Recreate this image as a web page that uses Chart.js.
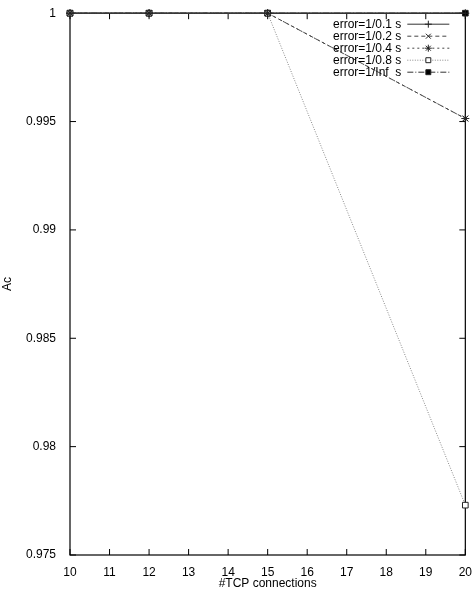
<!DOCTYPE html>
<html>
<head>
<meta charset="UTF-8">
<style>
  html, body { margin: 0; padding: 0; background: #fff; }
  #box { width: 474px; height: 591px; }
</style>
</head>
<body>
<div id="box"><canvas id="c"></canvas></div>
<script src="https://cdn.jsdelivr.net/npm/chart.js"></script>
<script>
    const xValues = [10, 12, 15, 20];
    const labels = ['error=1/0.1 s', 'error=1/0.2 s', 'error=1/0.4 s', 'error=1/0.8 s', 'error=1/Inf  s'];
    const s01 = [1, 1, 1, 1];
    const s02 = [1, 1, 1, 0.99514];
    const s04 = [1, 1, 1, 0.99514];
    const s08 = [1, 1, 1, 0.9773];
    const sInf = [1, 1, 1, 1];
    const series = [s01, s02, s04, s08, sInf];
    const dashes = [[], [4, 3], [2, 3], [1, 1.5], [6, 2, 1, 2]];
    const pointStyles = ['cross', 'crossRot', 'star', 'rect', 'rect'];
    const lineColors = ['#333', '#444', '#444', '#888', '#333'];
    const fills = ['#000', '#000', '#000', '#fff', '#000'];

    const font = 'Liberation Sans, Arial, sans-serif';

    let datasets = [];
    for (let i = 0; i < series.length; i++) {
        datasets.push({
            label: labels[i],
            data: xValues.map((x, j) => ({x: x, y: series[i][j]})),
            borderColor: lineColors[i],
            borderWidth: 1,
            borderDash: dashes[i],
            pointStyle: pointStyles[i],
            pointRadius: 4,
            pointBorderColor: '#222',
            pointBackgroundColor: fills[i],
            pointBorderWidth: 1,
            fill: false,
            clip: false,
            tension: 0
        });
    }

    // gnuplot-like frame, inward ticks and legend
    const gnuplotLook = {
        id: 'gnuplotLook',
        beforeDatasetsDraw(chart) {
            const ctx = chart.ctx;
            const a = chart.chartArea;
            const xs = chart.scales.x, ys = chart.scales.y;
            ctx.save();
            ctx.strokeStyle = '#000';
            ctx.lineWidth = 1.2;
            ctx.strokeRect(a.left, a.top, a.right - a.left, a.bottom - a.top);
            ctx.lineWidth = 1;
            xs.ticks.forEach(t => {
                const px = xs.getPixelForValue(t.value);
                ctx.beginPath();
                ctx.moveTo(px, a.bottom); ctx.lineTo(px, a.bottom - 6);
                ctx.moveTo(px, a.top); ctx.lineTo(px, a.top + 6);
                ctx.stroke();
            });
            ys.ticks.forEach(t => {
                const py = ys.getPixelForValue(t.value);
                ctx.beginPath();
                ctx.moveTo(a.left, py); ctx.lineTo(a.left + 6, py);
                ctx.moveTo(a.right, py); ctx.lineTo(a.right - 6, py);
                ctx.stroke();
            });
            ctx.restore();
        },
        afterDatasetsDraw(chart) {
            const ctx = chart.ctx;
            const a = chart.chartArea;
            ctx.save();
            ctx.font = '12px ' + font;
            ctx.textAlign = 'right';
            ctx.textBaseline = 'middle';
            chart.data.datasets.forEach((ds, i) => {
                const y = a.top + 11 + i * 12;
                const tx = a.right - 64;
                ctx.fillStyle = '#000';
                ctx.fillText(ds.label, tx, y);
                ctx.lineWidth = 1;
                ctx.strokeStyle = ds.borderColor;
                ctx.setLineDash(ds.borderDash);
                ctx.beginPath();
                ctx.moveTo(tx + 6, y); ctx.lineTo(tx + 48, y);
                ctx.stroke();
                ctx.setLineDash([]);
                ctx.strokeStyle = '#222';
                ctx.fillStyle = ds.pointBackgroundColor;
                Chart.helpers.drawPoint(ctx, {pointStyle: ds.pointStyle, radius: 3.5, rotation: 0, borderWidth: 1}, tx + 27, y);
            });
            ctx.restore();
        }
    };

    new Chart(document.getElementById('c'), {
        type: 'line',
        data: { datasets: datasets },
        options: {
            responsive: true,
            maintainAspectRatio: false,
            animation: false,
            layout: { padding: { top: 5, right: 8, left: 0, bottom: 0 } },
            plugins: { legend: { display: false }, tooltip: { enabled: false } },
            scales: {
                x: {
                    type: 'linear', min: 10, max: 20,
                    border: { display: false },
                    grid: { display: false },
                    ticks: { stepSize: 1, color: '#000', font: { family: font, size: 12 }, padding: 2, maxRotation: 0 },
                    title: { display: true, text: '#TCP connections', color: '#000', font: { family: font, size: 12 }, padding: 0 },
                    afterFit: s => { s.height = 36; }
                },
                y: {
                    min: 0.975, max: 1,
                    border: { display: false },
                    grid: { display: false },
                    ticks: {
                        stepSize: 0.005, color: '#000', font: { family: font, size: 12 }, padding: 6,
                        callback: v => String(+v.toFixed(3))
                    },
                    title: { display: true, text: 'Ac', color: '#000', font: { family: font, size: 12 }, padding: 0 },
                    afterFit: s => { s.width = 70; }
                }
            }
        },
        plugins: [gnuplotLook]
    });
</script>
</body>
</html>
